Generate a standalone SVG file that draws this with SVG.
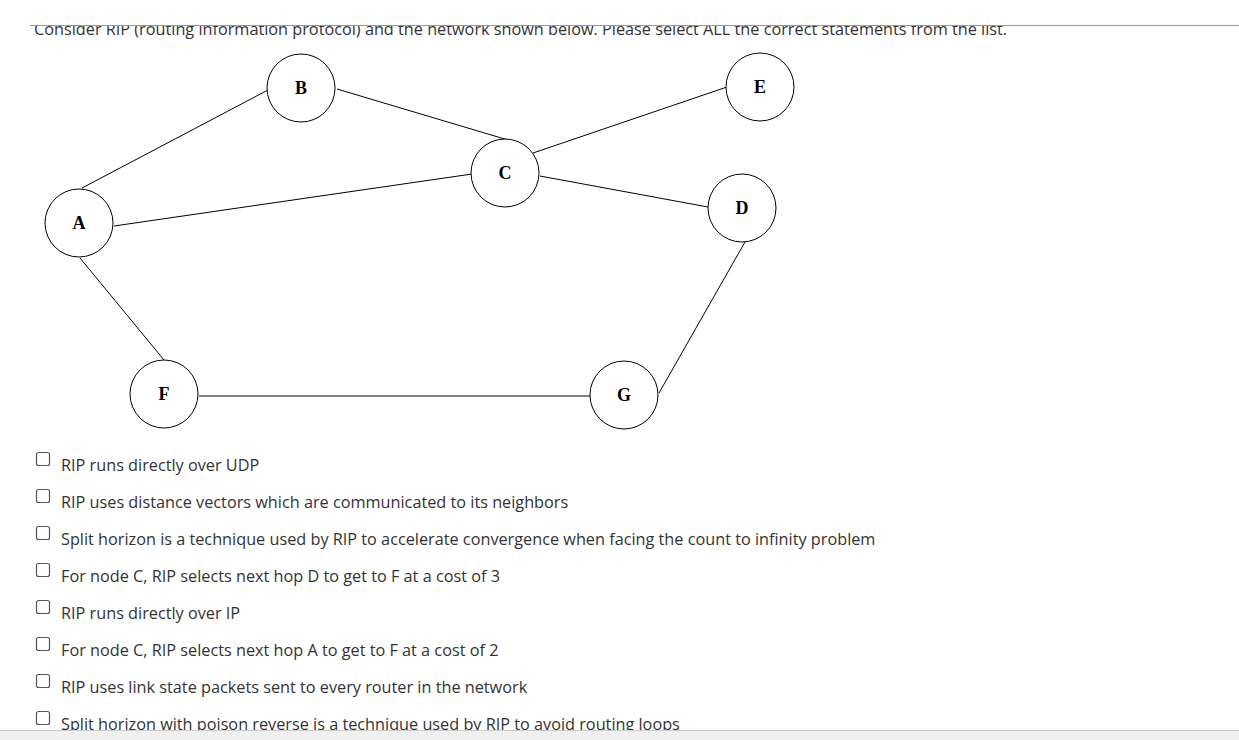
<svg xmlns="http://www.w3.org/2000/svg" width="1239" height="740" viewBox="0 0 1239 740">
<style>
.n circle{fill:#fff;stroke:#000;stroke-width:1}
.n text{font-family:"Liberation Serif",serif;font-weight:bold;font-size:18px;text-anchor:middle}
#edges line{stroke:#000;stroke-width:1}
.o{font-family:"Open Sans",sans-serif;font-size:16.25px;fill:#333}
.cb{fill:#fff;stroke:#555;stroke-width:1.2}
</style>
<defs><clipPath id="t"><rect x="0" y="26" width="1239" height="20"/></clipPath></defs>
<rect width="1239" height="740" fill="#fff"/>
<line x1="30" y1="25.5" x2="1239" y2="25.5" stroke="#999"/>
<text class="o" x="34" y="35" clip-path="url(#t)">Consider RIP (routing information protocol) and the network shown below. Please select ALL the correct statements from the list.</text>
<g id="edges">
<line x1="82" y1="188" x2="268" y2="90"/>
<line x1="337" y1="89" x2="508" y2="140"/>
<line x1="533" y1="153" x2="727" y2="87"/>
<line x1="114" y1="226" x2="472" y2="174"/>
<line x1="540" y1="176" x2="708" y2="207"/>
<line x1="80" y1="258" x2="164" y2="360"/>
<line x1="199" y1="396" x2="590" y2="396"/>
<line x1="659" y1="393" x2="745" y2="242"/>
</g>
<g id="B" class="n"><circle cx="301" cy="88" r="34"/><text x="301" y="94">B</text></g>
<g id="E" class="n"><circle cx="760" cy="87" r="34"/><text x="760" y="93">E</text></g>
<g id="C" class="n"><circle cx="505" cy="173" r="34"/><text x="505" y="179">C</text></g>
<g id="D" class="n"><circle cx="742" cy="208" r="34"/><text x="742" y="214">D</text></g>
<g id="A" class="n"><circle cx="79" cy="223" r="34"/><text x="79" y="229">A</text></g>
<g id="F" class="n"><circle cx="164" cy="394" r="34"/><text x="164" y="400">F</text></g>
<g id="G" class="n"><circle cx="624" cy="395" r="34"/><text x="624" y="401">G</text></g>
<g id="options">
<rect class="cb" x="36.5" y="452.5" width="13" height="13" rx="2"/><text class="o" x="61" y="471">RIP runs directly over UDP</text>
<rect class="cb" x="36.5" y="489.5" width="13" height="13" rx="2"/><text class="o" x="61" y="508">RIP uses distance vectors which are communicated to its neighbors</text>
<rect class="cb" x="36.5" y="526.5" width="13" height="13" rx="2"/><text class="o" x="61" y="545">Split horizon is a technique used by RIP to accelerate convergence when facing the count to infinity problem</text>
<rect class="cb" x="36.5" y="563.5" width="13" height="13" rx="2"/><text class="o" x="61" y="582">For node C, RIP selects next hop D to get to F at a cost of 3</text>
<rect class="cb" x="36.5" y="600.5" width="13" height="13" rx="2"/><text class="o" x="61" y="619">RIP runs directly over IP</text>
<rect class="cb" x="36.5" y="637.5" width="13" height="13" rx="2"/><text class="o" x="61" y="656">For node C, RIP selects next hop A to get to F at a cost of 2</text>
<rect class="cb" x="36.5" y="674.5" width="13" height="13" rx="2"/><text class="o" x="61" y="693">RIP uses link state packets sent to every router in the network</text>
<rect class="cb" x="36.5" y="711.5" width="13" height="13" rx="2"/><text class="o" x="61" y="730">Split horizon with poison reverse is a technique used by RIP to avoid routing loops</text>
</g>
<rect x="0" y="730" width="1239" height="10" fill="#f0f0f0"/>
<line x1="0" y1="730.5" x2="1239" y2="730.5" stroke="#ccc"/>
</svg>
